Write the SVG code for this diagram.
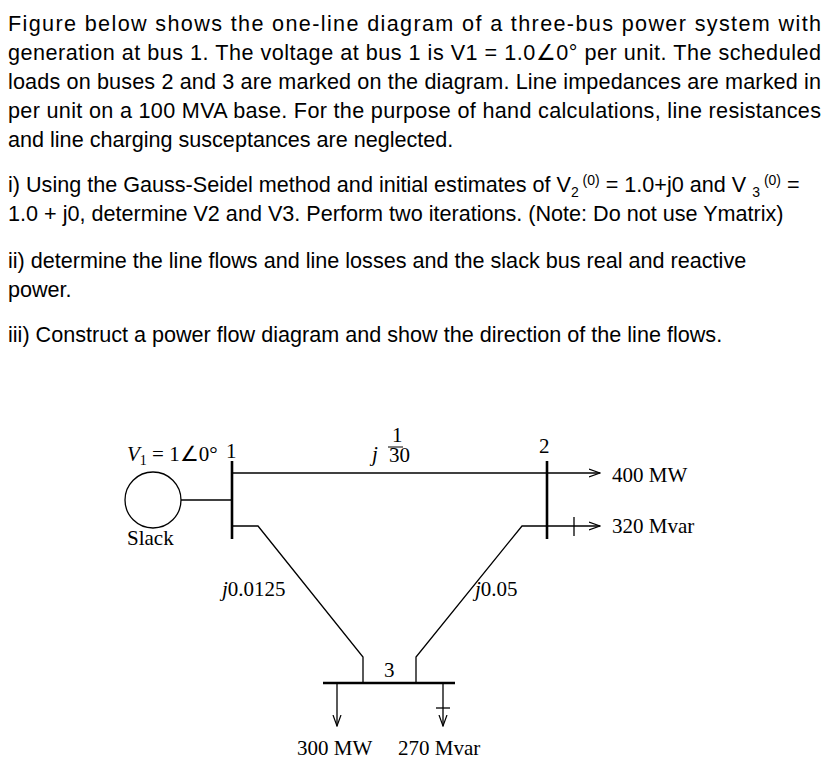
<svg xmlns="http://www.w3.org/2000/svg" width="828" height="773" viewBox="0 0 828 773">
<defs>
<style>
.t{font-family:"Liberation Sans",Arial,sans-serif;font-size:21.6px;fill:#000}
.d{font-family:"Liberation Serif","Times New Roman",serif;font-size:21px;fill:#000}
.w{stroke:#000;stroke-width:1.3;fill:none}
.b{stroke:#000;stroke-width:2.6;fill:none}
</style>
<marker id="a" markerWidth="12" markerHeight="10" refX="11" refY="5" orient="auto" markerUnits="userSpaceOnUse"><path d="M0,1 L11,5 L0,9" fill="none" stroke="#000" stroke-width="1.2"/></marker>
</defs>
<rect width="828" height="773" fill="#fff"/>
<g id="text">
<text class="t" x="8" y="31" textLength="813" lengthAdjust="spacing">Figure below shows the one-line diagram of a three-bus power system with</text>
<text class="t" x="8" y="60" textLength="813" lengthAdjust="spacing">generation at bus 1. The voltage at bus 1 is V1 = 1.0∠0° per unit. The scheduled</text>
<text class="t" x="8" y="89" textLength="813" lengthAdjust="spacing">loads on buses 2 and 3 are marked on the diagram. Line impedances are marked in</text>
<text class="t" x="8" y="118" textLength="813" lengthAdjust="spacing">per unit on a 100 MVA base. For the purpose of hand calculations, line resistances</text>
<text class="t" x="8" y="147">and line charging susceptances are neglected.</text>
<text class="t" x="8" y="192">i) Using the Gauss-Seidel method and initial estimates of V<tspan font-size="14" dy="5">2</tspan><tspan font-size="14" dy="-12"> (0)</tspan><tspan dy="7"> = 1.0+j0 and V </tspan><tspan font-size="14" dy="5">3</tspan><tspan font-size="14" dy="-12"> (0)</tspan><tspan dy="7"> =</tspan></text>
<text class="t" x="8" y="221">1.0 + j0, determine V2 and V3. Perform two iterations. (Note: Do not use Ymatrix)</text>
<text class="t" x="8" y="268">ii)  determine the line flows and line losses and the slack bus real and reactive</text>
<text class="t" x="8" y="297">power.</text>
<text class="t" x="8" y="342">iii) Construct a power flow diagram and show the direction of the line flows.</text>
</g>
<g id="bus1"><line class="b" x1="232" y1="461" x2="232" y2="539"/></g>
<g id="bus2"><line class="b" x1="547" y1="461" x2="547" y2="539"/></g>
<g id="bus3"><line class="b" x1="323" y1="683" x2="455" y2="683"/></g>
<g id="gen"><circle class="w" cx="153" cy="500" r="28"/></g>
<g id="connectors">
<line class="w" x1="181" y1="500" x2="232" y2="500"/>
<line class="w" x1="232" y1="473" x2="547" y2="473"/>
<line class="w" x1="547" y1="473" x2="600" y2="473" marker-end="url(#a)"/>
<polyline class="w" points="232,526 258,526 363,657 363,683"/>
<polyline class="w" points="416,683 416,657 522,526 547,526"/>
<line class="w" x1="547" y1="526" x2="600" y2="526" marker-end="url(#a)"/>
<line class="w" x1="574" y1="517" x2="574" y2="536"/>
<line class="w" x1="337" y1="683" x2="337" y2="726" marker-end="url(#a)"/>
<line class="w" x1="443" y1="683" x2="443" y2="726" marker-end="url(#a)"/>
<line class="w" x1="436" y1="708" x2="450" y2="708"/>
</g>
<g id="labels">
<text class="d" x="127" y="461" font-style="italic">V<tspan font-size="14" dy="4" font-style="normal">1</tspan><tspan dy="-4" font-style="normal"> = 1∠0°</tspan></text>
<text class="d" x="226" y="458">1</text>
<text class="d" x="539" y="453">2</text>
<text class="d" x="127" y="545">Slack</text>
<text class="d" x="372" y="461" font-style="italic">j</text>
<text class="d" x="392" y="442" font-size="12">1</text>
<line x1="388" y1="447" x2="403" y2="447" stroke="#000" stroke-width="1"/>
<text class="d" x="389" y="462" font-size="12">30</text>
<text class="d" x="612" y="482">400 MW</text>
<text class="d" x="612" y="533">320 Mvar</text>
<text class="d" x="222" y="596"><tspan font-style="italic">j</tspan>0.0125</text>
<text class="d" x="475" y="596"><tspan font-style="italic">j</tspan>0.05</text>
<text class="d" x="384" y="677">3</text>
<text class="d" x="297" y="755">300 MW</text>
<text class="d" x="398" y="755">270 Mvar</text>
</g>
</svg>
